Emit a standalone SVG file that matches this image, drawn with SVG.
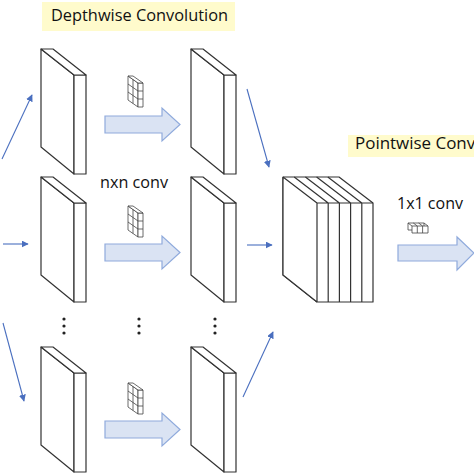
<svg xmlns="http://www.w3.org/2000/svg" width="474" height="474" viewBox="0 0 474 474">
<defs>
<style>
.plate{fill:#fff;stroke:#333;stroke-width:1.2;stroke-linejoin:round}
.kern{fill:#fff;stroke:#444;stroke-width:0.8;stroke-linejoin:round}
.big{fill:#dae3f3;stroke:#8faadc;stroke-width:1.2}
.conn{stroke:#4a6fbf;stroke-width:1.1;fill:none}
.lbl{font-family:"Open Sans","Liberation Sans",sans-serif;fill:#111}
.hdr{fill:#fffbcc}
</style>
<marker id="ah" viewBox="0 0 10 10" refX="9" refY="5" markerWidth="7" markerHeight="7" markerUnits="userSpaceOnUse" orient="auto">
<path d="M0,0 L10,5 L0,10 z" fill="#4a6fbf"/>
</marker>
<g id="plateShape">
<polygon class="plate" points="0,0 33,26 33,125 0,98"/>
<polygon class="plate" points="33,26 45,26 45,125 33,125"/>
<polygon class="plate" points="0,0 12,0 45,26 33,26"/>
</g>
<g id="kernShape">
<polygon class="kern" points="0,0 10,7 10,31 0,24"/>
<polygon class="kern" points="10,7 15,7 15,31 10,31"/>
<polygon class="kern" points="0,0 5,0 15,7 10,7"/>
<path class="kern" d="M5,3.5 L5,27.5 M0,8 L10,15 M0,16 L10,23 M10,15 L15,15 M10,23 L15,23"/>
</g>
<path id="blockArrow" class="big" d="M0,8 L57,8 L57,0 L75,16.5 L57,33 L57,25 L0,25 z"/>
</defs>

<g id="header-depthwise">
<rect class="hdr" x="42" y="2" width="193" height="29"/>
<text class="lbl" x="51" y="21" font-size="16.5" textLength="177" lengthAdjust="spacingAndGlyphs">Depthwise Convolution</text>
</g>

<g id="header-pointwise">
<rect class="hdr" x="348" y="135" width="130" height="22"/>
<text class="lbl" x="355" y="148.5" font-size="16" textLength="176" lengthAdjust="spacingAndGlyphs">Pointwise Convolution</text>
</g>

<g id="input-plate-1"><use href="#plateShape" x="41" y="49"/></g>
<g id="input-plate-2"><use href="#plateShape" x="41" y="177"/></g>
<g id="input-plate-3"><use href="#plateShape" x="41" y="347"/></g>

<g id="output-plate-1"><use href="#plateShape" x="191" y="49"/></g>
<g id="output-plate-2"><use href="#plateShape" x="191" y="177"/></g>
<g id="output-plate-3"><use href="#plateShape" x="191" y="347"/></g>

<g id="dw-arrow-1">
<use href="#kernShape" x="128" y="76"/>
<use href="#blockArrow" x="105" y="108"/>
</g>
<g id="dw-arrow-2">
<text class="lbl" x="100" y="188" font-size="16" textLength="68" lengthAdjust="spacingAndGlyphs">nxn conv</text>
<use href="#kernShape" x="128" y="206"/>
<use href="#blockArrow" x="105" y="236"/>
</g>
<g id="dw-arrow-3">
<use href="#kernShape" x="128" y="383"/>
<use href="#blockArrow" x="105" y="413"/>
</g>

<g id="ellipsis" fill="#222">
<circle cx="64" cy="319" r="1.6"/><circle cx="64" cy="326" r="1.6"/><circle cx="64" cy="333" r="1.6"/>
<circle cx="139" cy="319" r="1.6"/><circle cx="139" cy="326" r="1.6"/><circle cx="139" cy="333" r="1.6"/>
<circle cx="215" cy="319" r="1.6"/><circle cx="215" cy="326" r="1.6"/><circle cx="215" cy="333" r="1.6"/>
</g>

<g id="stack">
<polygon class="plate" points="283,177 339,177 373,203 373,302 317,302 283,275"/>
<path class="plate" fill="none" d="M317,203 L317,302 M328.2,203 L328.2,302 M339.4,203 L339.4,302 M350.6,203 L350.6,302 M361.8,203 L361.8,302 M283,177 L317,203 M294.2,177 L328.2,203 M305.4,177 L339.4,203 M316.6,177 L350.6,203 M327.8,177 L361.8,203 M317,203 L373,203 M283,177 L283,275 L317,302"/>
</g>

<g id="pw-arrow">
<text class="lbl" x="397" y="209" font-size="16" textLength="66" lengthAdjust="spacingAndGlyphs">1x1 conv</text>
<g class="kern">
<rect x="408" y="223" width="16" height="7"/>
<path d="M408,223 L412,226 M413.3,223 L417.3,226 M418.6,223 L422.6,226 M424,223 L428,226"/>
<rect x="412" y="226" width="16" height="7"/>
<path d="M417.3,226 L417.3,233 M422.6,226 L422.6,233"/>
</g>
<path class="big" d="M398,245 L457,245 L457,237 L474,253 L457,270 L457,261 L398,261 z"/>
</g>

<g id="connectors">
<line class="conn" x1="2" y1="159" x2="32" y2="95" marker-end="url(#ah)"/>
<line class="conn" x1="3" y1="244" x2="28" y2="244" marker-end="url(#ah)"/>
<line class="conn" x1="3" y1="323" x2="24" y2="401" marker-end="url(#ah)"/>
<line class="conn" x1="247" y1="89" x2="269" y2="167" marker-end="url(#ah)"/>
<line class="conn" x1="247" y1="245" x2="272" y2="245" marker-end="url(#ah)"/>
<line class="conn" x1="243" y1="397" x2="273" y2="332" marker-end="url(#ah)"/>
</g>
</svg>
